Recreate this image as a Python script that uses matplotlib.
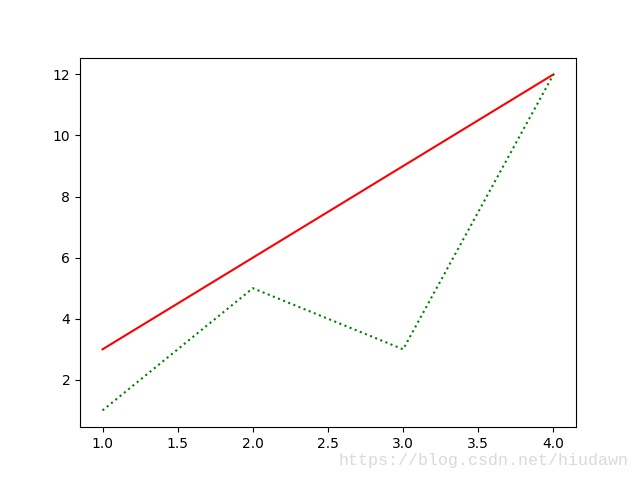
import matplotlib
matplotlib.use("Agg")
import matplotlib.pyplot as plt

x = [1, 2, 3, 4]
red_y = [3, 6, 9, 12]
green_y = [1, 5, 3, 12]

fig = plt.figure(figsize=(6.4, 4.8), dpi=100)
plt.plot(x, red_y, 'r-')
plt.plot(x, green_y, 'g:')

# watermark from the source page
fig.text(0.982, 0.04, "https://blog.csdn.net/hiudawn", ha='right', va='center',
         fontsize=12, color='#dadada', family='Liberation Mono')

plt.savefig("out.png")
